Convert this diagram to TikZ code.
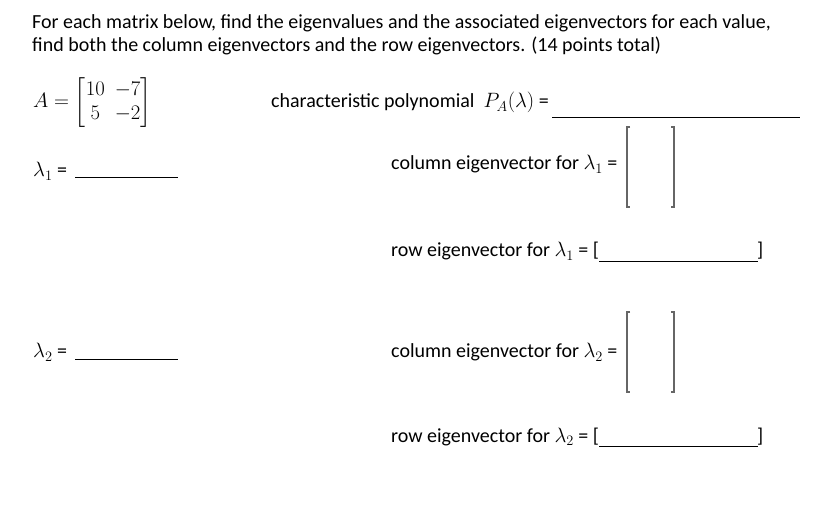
\documentclass[tikz,border=0pt]{standalone}
\usepackage{amsmath}
\usepackage{fontspec}
\setmainfont{Carlito}
\tikzset{txt/.style={anchor=base west,inner sep=0pt,font=\fontsize{20}{24}\selectfont},
 blank/.style={line width=0.9pt},
 brk/.style={draw=gray!80!black,line width=1.6pt}}
\begin{document}
\begin{tikzpicture}[x=1pt,y=-1pt]
\useasboundingbox[fill=white] (0,0) rectangle (835,518);
\node[txt] (t1) at (32,29) {For each matrix below, find the eigenvalues and the associated eigenvectors for each value,};
\node[txt] (t2) at (32,52) {find both the column eigenvectors and the row eigenvectors. (14 points total)};
\node[txt] (A) at (33,108) {$A=\begin{bmatrix}10 & -7\\ 5 & -2\end{bmatrix}$};
\node[txt] (cp) at (271,108) {characteristic polynomial \ $P_A(\lambda)$ =};
\draw[blank] (552,117) -- (800,117);
\node[txt] (l1) at (33,177) {$\lambda_1$ =};
\draw[blank] (75,177) -- (178,177);
\node[txt] (c1) at (391,170) {column eigenvector for $\lambda_1$ =};
\draw[brk] (630,127) -- (627,127) -- (627,207) -- (630,207);
\draw[brk] (671,127) -- (674,127) -- (674,207) -- (671,207);
\node[txt] (r1) at (391,257) {row eigenvector for $\lambda_1$ = [};
\draw[blank] (r1.base east) ++(0,4) -- (758,261);
\node[txt] (r1e) at (757,257) {]};
\node[txt] (l2) at (33,358) {$\lambda_2$ =};
\draw[blank] (75,359) -- (178,359);
\node[txt] (c2) at (391,358) {column eigenvector for $\lambda_2$ =};
\draw[brk] (630,312) -- (627,312) -- (627,392) -- (630,392);
\draw[brk] (671,312) -- (674,312) -- (674,392) -- (671,392);
\node[txt] (r2) at (391,442) {row eigenvector for $\lambda_2$ = [};
\draw[blank] (r2.base east) ++(0,4) -- (758,446);
\node[txt] (r2e) at (757,442) {]};
\end{tikzpicture}
\end{document}
